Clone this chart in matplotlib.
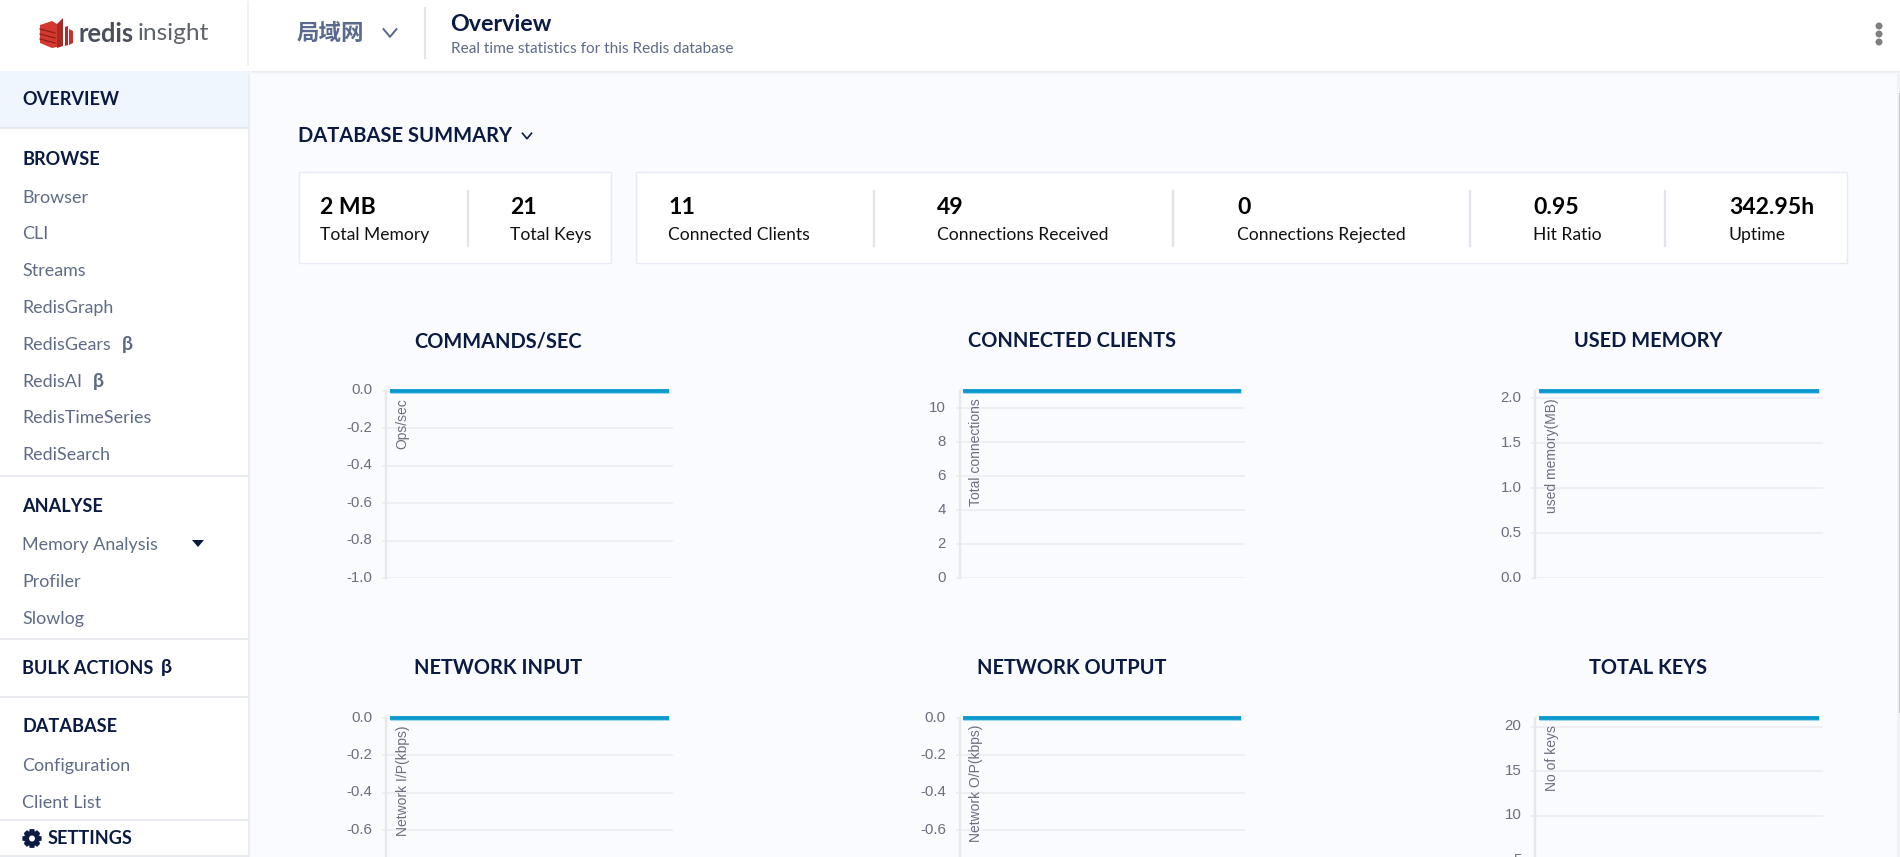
import math
import matplotlib
matplotlib.use("Agg")
import matplotlib.pyplot as plt
from matplotlib.patches import Rectangle, Polygon, Circle
from matplotlib.lines import Line2D
from matplotlib.transforms import ScaledTranslation

W, H = 1900, 857
UI = ['Lato', 'Noto Sans CJK SC', 'DejaVu Sans']
AX = ['Liberation Sans', 'DejaVu Sans']
INK = '#0b1a42'
GREY = '#5f6b85'

# ---------- data ----------
sample_times = [0, 1, 2, 3, 4, 5]
commands_sec = [0.0, 0.0, 0.0, 0.0, 0.0, 0.0]
connected_clients = [11, 11, 11, 11, 11, 11]
used_memory = [2.08, 2.08, 2.08, 2.08, 2.08, 2.08]
network_input = [0.0, 0.0, 0.0, 0.0, 0.0, 0.0]
network_output = [0.0, 0.0, 0.0, 0.0, 0.0, 0.0]
total_keys = [21, 21, 21, 21, 21, 21]

negative_ticks = [0.0, -0.2, -0.4, -0.6, -0.8, -1.0]
negative_labels = ['0.0', '-0.2', '-0.4', '-0.6', '-0.8', '-1.0']
network_ticks = [0.0, -0.2, -0.4, -0.6]
network_labels = ['0.0', '-0.2', '-0.4', '-0.6']
client_ticks = [0, 2, 4, 6, 8, 10]
client_labels = ['0', '2', '4', '6', '8', '10']
memory_ticks = [0.0, 0.5, 1.0, 1.5, 2.0]
memory_labels = ['0.0', '0.5', '1.0', '1.5', '2.0']
key_ticks = [5, 10, 15, 20]
key_labels = ['5', '10', '15', '20']

chart_titles = ['COMMANDS/SEC', 'CONNECTED CLIENTS', 'USED MEMORY',
                'NETWORK INPUT', 'NETWORK OUTPUT', 'TOTAL KEYS']
chart_ylabels = ['Ops/sec', 'Total connections', 'used memory(MB)',
                 'Network I/P(kbps)', 'Network O/P(kbps)', 'No of keys']

summary_values = ['2 MB', '21', '11', '49', '0', '0.95', '342.95h']
summary_labels = ['Total Memory', 'Total Keys', 'Connected Clients', 'Connections Received',
                  'Connections Rejected', 'Hit Ratio', 'Uptime']
sidebar_heads = ['OVERVIEW', 'BROWSE', 'ANALYSE', 'BULK ACTIONS', 'DATABASE', 'SETTINGS']
sidebar_links = ['Browser', 'CLI', 'Streams', 'RedisGraph', 'RedisGears', 'RedisAI', 'RedisTimeSeries',
                 'RediSearch', 'Memory Analysis', 'Profiler', 'Slowlog', 'Configuration', 'Client List']

# ---------- layout ----------
fig = plt.figure(figsize=(W / 100, H / 100), dpi=100, facecolor='#f9fbff')
ui = fig.add_axes([0, 0, 1, 1], zorder=5)
ui.set_xlim(0, W)
ui.set_ylim(H, 0)
ui.axis('off')
ui.patch.set_alpha(0)


def T(x, y, s, px, color=INK, weight='normal', ha='left', family=None, **kw):
    return ui.text(x, y + 1.3, s, fontsize=px * 0.72, color=color, fontweight=weight, ha=ha, va='center',
                   family=family or UI, **kw)


def R(x0, y0, x1, y1, fc, ec='none', lw=0, z=1):
    ui.add_patch(Rectangle((x0, y0), x1 - x0, y1 - y0, fc=fc, ec=ec, lw=lw, zorder=z))


def HL(x0, x1, y, c='#e4e6ec', lw=1.4, z=3):
    ui.add_line(Line2D([x0, x1], [y, y], color=c, lw=lw, zorder=z))


def VL(x, y0, y1, c='#e4e6ec', lw=1.4, z=3):
    ui.add_line(Line2D([x, x], [y0, y1], color=c, lw=lw, zorder=z))


def chevron(x, y, s, c, lw):
    ui.add_line(Line2D([x - s, x, x + s], [y - s * 0.6, y + s * 0.6, y - s * 0.6], color=c, lw=lw, zorder=4))


def gear(cx, cy, r_out, r_in, r_hole, teeth, c):
    pts = []
    for i in range(teeth):
        a = 2 * math.pi * i / teeth
        step = 2 * math.pi / teeth
        for da, r in ((-0.30, r_in), (-0.17, r_out), (0.17, r_out), (0.30, r_in)):
            pts.append((cx + r * math.cos(a + da * step * 1.6), cy + r * math.sin(a + da * step * 1.6)))
    ui.add_patch(Polygon(pts, fc=c, ec=c, lw=0.3, zorder=4))
    ui.add_patch(Circle((cx, cy), r_hole, fc='#ffffff', ec='none', zorder=5))


# scrollbar, sidebar and header with soft shadows
R(1897, 71, W, H, '#f0f2f6')
R(1898.5, 93, W, 713, '#c4c5c9')
for i, c in enumerate(['#e9ebf1', '#f0f2f7', '#f5f7fb']):
    R(248 + i, 71, 249 + i, H, c, z=1)
    R(0, 71 + i, W, 72 + i, c, z=1)
R(0, 71, 248, H, '#ffffff', z=2)
R(0, 0, W, 71, '#ffffff', z=2)
R(0, 71, 248, 128, '#eff6fe', z=2)
VL(248, 2, 65, '#eef0f4', 1.2)
VL(424.5, 8, 58, '#e3e6ec', 1.6)

# logo
ui.add_patch(Polygon([(40, 25), (52, 21), (57, 24), (57, 47), (52, 48), (40, 43)], fc='#d4382e', zorder=4))
ui.add_patch(Polygon([(57, 24), (63, 18), (63, 46), (57, 48)], fc='#a82a24', zorder=4))
ui.add_patch(Polygon([(65, 27), (68, 26), (68, 45), (65, 46)], fc='#b52a25', zorder=4))
ui.add_patch(Polygon([(69, 29), (73, 31), (73, 43), (69, 45)], fc='#c9302a', zorder=4))
for y in (29, 34, 39):
    ui.add_line(Line2D([40, 55], [y, y + 4], color='#8e1f1c', lw=0.9, zorder=5))
T(79, 32.5, 'redis', 25.5, color='#4a4f5c', weight='bold')
T(138, 32.5, 'insight', 24.5, color='#5f636b')

# header
T(297, 32, '局域网', 22.5, color='#5a6a8e', family=['Noto Sans CJK SC', 'DejaVu Sans'], weight='bold')
chevron(390, 33, 6.5, '#5a6a8e', 1.4)
T(450.5, 23, 'Overview', 23.2, weight='bold')
T(451, 48, 'Real time statistics for this Redis database', 15.4, color=GREY)
for y in (26, 34, 42):
    ui.add_patch(Circle((1879, y), 3.5, fc='#808080', zorder=4))

# sidebar
head_y = [98, 158, 505, 667, 726, 838]
link_y = [197, 233, 270, 307, 344, 381, 417, 454, 544, 581, 618, 765, 802]
for i, s in enumerate(sidebar_heads):
    T(48 if s == 'SETTINGS' else 22.5, head_y[i] - 0.3, s, 18.2, weight='bold', zorder=4)
for i, s in enumerate(sidebar_links):
    T(22.5, link_y[i] - 0.3, s, 17.9, color=GREY, zorder=4)
for sy in (128, 476, 639, 697, 820, 856):
    HL(0, 248, sy, '#e4e6ec', 1.2)
T(122, 343, 'β', 19.5, color=GREY, weight='bold', zorder=4)
T(93, 380, 'β', 19.5, color=GREY, weight='bold', zorder=4)
T(161, 666, 'β', 19.5, color=INK, weight='bold', zorder=4)
ui.add_patch(Polygon([(192, 540), (204, 540), (198, 547)], fc=INK, zorder=4))
gear(32, 838.5, 9.5, 7.3, 3.0, 8, INK)

# summary
T(298.5, 135, 'DATABASE SUMMARY', 20.1, weight='bold')
chevron(527, 136, 4.5, INK, 1.2)
R(299, 172, 611, 263, '#ffffff', ec='#e8ebf1', lw=1.0)
R(636, 172, 1847, 263, '#ffffff', ec='#e8ebf1', lw=1.0)
stat_x = [319.5, 510, 668, 937, 1237, 1533, 1729]
for i in range(len(summary_values)):
    T(stat_x[i], 206, summary_values[i], 23, color='#000000', weight='bold', zorder=4)
    T(stat_x[i], 234, summary_labels[i], 17.5, color='#111111', zorder=4)
for x in (467.5, 874, 1173, 1470, 1665):
    VL(x, 191, 246, '#e1e4ea', 1.7)

# charts
cols = [(386, 673), (959.5, 1245), (1535, 1823)]
rows = [(391, 578), (718, 905)]
title_cx = [498, 1072, 1648]
title_y = [340, 667]
series = [
    (commands_sec, negative_ticks, negative_labels, (-1.0, 0.0)),
    (connected_clients, client_ticks, client_labels, (0, 11)),
    (used_memory, memory_ticks, memory_labels, (0.0, 2.08)),
    (network_input, network_ticks, network_labels, (-1.0, 0.0)),
    (network_output, network_ticks, network_labels, (-1.0, 0.0)),
    (total_keys, key_ticks, key_labels, (0, 21)),
]
lift = ScaledTranslation(0, 2.0 / 100, fig.dpi_scale_trans)
for k, (vals, ticks, labels, ylim) in enumerate(series):
    r, c = divmod(k, 3)
    x0, x1 = cols[c]
    y0, y1 = rows[r]
    ax = fig.add_axes([x0 / W, 1 - y1 / H, (x1 - x0) / W, (y1 - y0) / H], zorder=2)
    ax.patch.set_alpha(0)
    ax.set_ylim(*ylim)
    ax.set_xlim(-4 / 280 * 5, 5 + 4 / 280 * 5)
    ax.plot(sample_times, vals, color='#8fd3f0', lw=3.4, clip_on=False, solid_capstyle='butt', zorder=4)
    ax.plot(sample_times, vals, color='#0a98cd', lw=2.7, clip_on=False, solid_capstyle='butt', zorder=5)
    ax.set_yticks(ticks)
    ax.set_yticklabels(labels, family=AX, fontsize=10.8, color='#6d6d7e')
    ax.set_xticks([])
    for s in ('top', 'right', 'bottom'):
        ax.spines[s].set_visible(False)
    ax.spines['left'].set_color('#e6e8ee')
    ax.spines['left'].set_linewidth(1.7)
    ax.tick_params(axis='y', length=3, width=1.2, color='#eaecf1', pad=6.8)
    for lab in ax.get_yticklabels():
        lab.set_transform(lab.get_transform() + lift)
    ax.grid(axis='y', color='#ebedf2', lw=1.2)
    ax.set_axisbelow(True)
    ax.text(0.058, 1 - 7 / 187, chart_ylabels[k], transform=ax.transAxes, rotation=90, ha='center', va='top',
            family=AX, fontsize=10.0, color='#6d6d7e', zorder=6)
    T(title_cx[c], title_y[r], chart_titles[k], 20, weight='bold', ha='center', zorder=4)

fig.savefig('out.png', dpi=100, facecolor=fig.get_facecolor())
